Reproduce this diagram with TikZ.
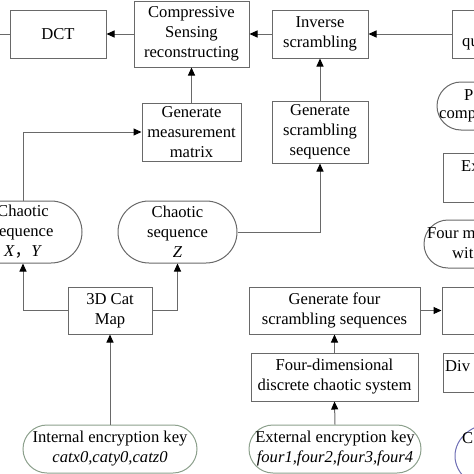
\documentclass[tikz,border=0pt]{standalone}
\usepackage{fontspec}
\setmainfont{Liberation Serif}
\newfontfamily\cjk{Noto Sans CJK SC}
\usetikzlibrary{arrows.meta,shapes.geometric}
\definecolor{ln}{RGB}{105,105,105}
\definecolor{keyc}{RGB}{140,160,140}
\definecolor{circc}{RGB}{110,110,180}
\newcommand{\fsz}{\fontsize{16.6}{20}\selectfont}
\tikzset{
  box/.style={draw=ln, line width=1pt, rectangle, inner sep=0pt, align=center, font=\fsz},
  pill/.style={box, rounded corners=#1},
  arr/.style={draw=ln, line width=1pt, -{Triangle[length=8pt,width=7pt,color=black]}},
  plain/.style={draw=ln, line width=1pt},
  frag/.style={anchor=west, inner sep=0pt, font=\fsz},
}
\begin{document}
\begin{tikzpicture}[x=1pt,y=-1pt]
\useasboundingbox (0,0) rectangle (474,474);
\clip (0,0) rectangle (474,474);
% top row
\node[box, minimum width=96pt, minimum height=48pt] (dct) at (58,34) {DCT};
\node[box, minimum width=115pt, minimum height=66pt] (cs) at (191.5,34) {Compressive\\Sensing\\reconstructing};
\node[box, minimum width=96pt, minimum height=48pt] (inv) at (320,34) {Inverse\\scrambling};
\node[box, minimum width=100pt, minimum height=48pt] (qu) at (502,34) {};
\node[frag] (tqu) at (462,44) {qu};
\coordinate (lft) at (0,34);
% second row
\node[box, minimum width=99pt, minimum height=58pt] (gmm) at (191.5,132) {Generate\\measurement\\matrix};
\node[box, minimum width=96pt, minimum height=62pt] (gss) at (320,132) {Generate\\scrambling\\sequence};
\node[pill=24pt, minimum width=120pt, minimum height=48pt] (pbox) at (497,106) {};
\node[frag] (tp) at (464,95) {P};
\node[frag] (tcomp) at (439,116) {comp};
% third row
\node[pill=31pt, minimum width=118pt, minimum height=62pt] (xy) at (23,232) {Chaotic\\sequence\\\textit{X}{\cjk ，}\textit{Y}};
\node[pill=31pt, minimum width=119pt, minimum height=62pt] (z) at (177.5,232) {Chaotic\\sequence\\\textit{Z}};
\node[box, minimum width=100pt, minimum height=49pt] (exbox) at (493,177.5) {};
\node[frag] (tex) at (461,166) {Ex};
\node[pill=24pt, minimum width=140pt, minimum height=48pt] (fourm) at (494,244) {};
\node[frag] (tfour) at (427,233) {Four m};
\node[frag] (twit) at (452,253) {wit};
% fourth row
\node[box, minimum width=84pt, minimum height=47pt] (cat) at (110,310.5) {3D Cat\\Map};
\node[box, minimum width=171pt, minimum height=47pt] (gfss) at (334.5,310.5) {Generate four\\scrambling sequences};
\node[box, minimum width=100pt, minimum height=47pt] (rbox) at (492,310.5) {};
% fifth row
\node[box, minimum width=167pt, minimum height=48pt] (fd) at (334.5,377) {Four-dimensional\\discrete chaotic system};
\node[box, minimum width=100pt, minimum height=39pt] (div) at (493,372.5) {};
\node[frag] (tdiv) at (445,366) {Div};
% keys
\node[pill=24pt, draw=keyc, minimum width=174pt, minimum height=48pt] (ikey) at (110,449) {Internal encryption key\\\textit{catx0,caty0,catz0}};
\node[pill=24pt, draw=keyc, minimum width=172pt, minimum height=48pt] (ekey) at (335,449) {External encryption key\\\textit{four1,four2,four3,four4}};
\node[draw=circc, line width=1pt, ellipse, minimum width=80pt, minimum height=66pt, inner sep=0pt] (circ) at (495,456) {};
\node[frag] (tc) at (462,438) {C};
% connectors
\draw[plain] (dct.west) -- (lft);
\draw[arr] (cs) -- (dct);
\draw[arr] (inv) -- (cs);
\draw[arr] (qu) -- (inv);
\draw[arr] (gmm) -- (cs);
\draw[arr] (gss) -- (inv);
\draw[arr] (xy.north) |- (gmm.west);
\draw[arr] (z.east) -| (gss.south);
\draw[arr] (cat.west) -| (xy.south);
\draw[arr] (cat.east) -| (z.south);
\draw[arr] (ikey.north) -- (cat.south);
\draw[arr] (fd.north) -- (gfss.south);
\draw[arr] (ekey.north) -- (fd.south);
\draw[arr] (gfss.east) -- (rbox.west);
\end{tikzpicture}
\end{document}
